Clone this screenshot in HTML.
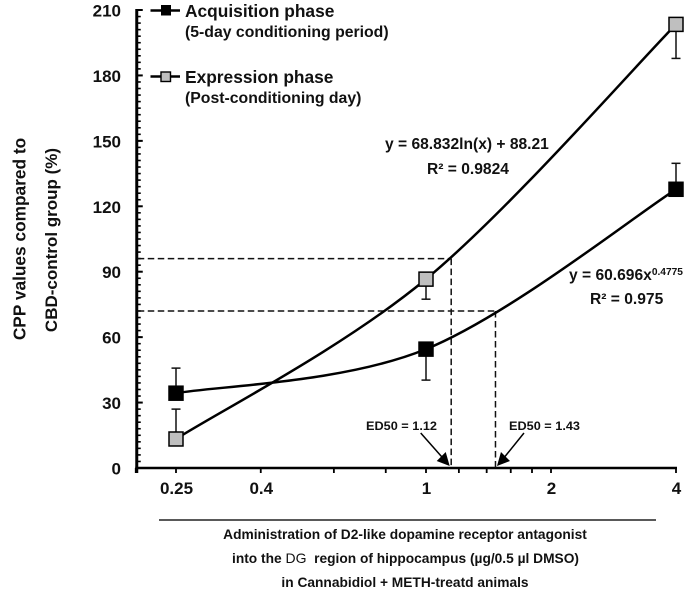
<!DOCTYPE html>
<html lang="en">
<head>
<meta charset="utf-8">
<title>CPP dose-response chart</title>
<style>
html,body{margin:0;padding:0;background:#fff;width:685px;height:595px;overflow:hidden}
svg{display:block;position:absolute;left:0;top:0;filter:blur(0.35px)}
text{font-family:"Liberation Sans",Arial,sans-serif;font-weight:bold;fill:#111;white-space:pre}
</style>
</head>
<body>
<svg id="chart" xmlns="http://www.w3.org/2000/svg" width="685" height="595" viewBox="0 0 685 595">
  <text transform="translate(25.5,239) rotate(-90)" text-anchor="middle" font-size="17.3">CPP values compared to</text>
  <text transform="translate(57,240) rotate(-90)" text-anchor="middle" font-size="17">CBD-control group (%)</text>

  <text x="185" y="17" font-size="17.35">Acquisition phase</text>
  <text x="185" y="37" font-size="15.8">(5-day conditioning period)</text>
  <text x="185" y="83" font-size="17.35">Expression phase</text>
  <text x="185" y="103" font-size="15.8">(Post-conditioning day)</text>

  <g>
    <line x1="150.5" y1="10.5" x2="180" y2="10.5" stroke="#000" stroke-width="2.5"/>
    <rect x="161" y="5" width="10" height="10.5" fill="#000"/>
  </g>
  <g>
    <line x1="150.5" y1="76.5" x2="180" y2="76.5" stroke="#000" stroke-width="2.5"/>
    <rect x="161" y="72" width="9.5" height="9.5" fill="#bfbfbf" stroke="#000" stroke-width="1.4"/>
  </g>

  <text x="385" y="149" font-size="15.6">y = 68.832ln(x) + 88.21</text>
  <text x="427" y="174" font-size="15.6">R² = 0.9824</text>
  <text x="569" y="280" font-size="15.6">y = 60.696x<tspan font-size="10.2" dy="-5">0.4775</tspan></text>
  <text x="590" y="304" font-size="15.6">R² = 0.975</text>

  <text x="366" y="430" font-size="12" textLength="71" lengthAdjust="spacingAndGlyphs">ED50 = 1.12</text>
  <text x="509" y="430" font-size="12" textLength="71" lengthAdjust="spacingAndGlyphs">ED50 = 1.43</text>

  <line x1="159" y1="520" x2="656" y2="520" stroke="#222" stroke-width="1.5"/>
  <text x="405" y="539" text-anchor="middle" font-size="13.75">Administration of D2-like dopamine receptor antagonist</text>
  <text x="405.5" y="563" text-anchor="middle" font-size="13.75">into the <tspan font-weight="normal" font-size="14">DG</tspan>  region of hippocampus (µg/0.5 µl DMSO)</text>
  <text x="405" y="587" text-anchor="middle" font-size="13.75">in Cannabidiol + METH-treatd animals</text>
</svg>
<script>
// Chart data
const doses = [0.25, 1, 4];
const acquisitionValues = [34.3, 54.5, 127.8];
const acquisitionErrorEnds = [45.8, 40.3, 139.7];
const expressionValues = [13.3, 86.6, 203.4];
const expressionErrorEnds = [27, 77.4, 187.8];
const yMajorTicks = [0, 30, 60, 90, 120, 150, 180, 210];
const yMinorStep = 3;
const xTickValues = [0.2, 0.25, 0.4, 0.6, 0.8, 1, 1.2, 1.4, 1.6, 1.8, 2, 4];
const xTickLabels = [0.25, 0.4, 1, 2, 4];
const referenceLevels = [96, 72];
const referenceDoses = [1.15, 1.47];

const svg = document.getElementById('chart');
const NS = 'http://www.w3.org/2000/svg';

// Axis functions
function xScale(v) { return 426 + 125 * Math.log2(v); }
function yScale(v) { return 468 - (458 / 210) * v; }

function mk(tag, attrs, parent) {
  const el = document.createElementNS(NS, tag);
  for (const k in attrs) el.setAttribute(k, attrs[k]);
  (parent || svg).appendChild(el);
  return el;
}

function smoothPath(xs, ys) {
  const px = xs.map(xScale);
  const py = ys.map(yScale);
  let d = 'M' + px[0] + ' ' + py[0];
  for (let i = 0; i < px.length - 1; i++) {
    const a = Math.max(i - 1, 0);
    const b = Math.min(i + 2, px.length - 1);
    const c1x = px[i] + (px[i + 1] - px[a]) / 6;
    const c1y = py[i] + (py[i + 1] - py[a]) / 6;
    const c2x = px[i + 1] - (px[b] - px[i]) / 6;
    const c2y = py[i + 1] - (py[b] - py[i]) / 6;
    d += ' C' + c1x + ' ' + c1y + ' ' + c2x + ' ' + c2y + ' ' + px[i + 1] + ' ' + py[i + 1];
  }
  return d;
}

// Y axis
const yAxisLine = mk('line', { x1: xScale(0.2) + 1, x2: xScale(0.2) + 1, y1: yScale(210) - 1, y2: yScale(0) + 5, stroke: '#000', 'stroke-width': 3 });



const yAxisX = xScale(0.2) + 1;
for (let v = 0; v <= 210; v += yMinorStep) {
  const minorTick = mk('line', { x1: yAxisX, x2: yAxisX + 4, y1: yScale(v), y2: yScale(v), stroke: '#000', 'stroke-width': 1.6 });
  
  
}
yMajorTicks.forEach(function (v) {
  const majorTick = mk('line', { x1: yAxisX, x2: yAxisX + 6, y1: yScale(v), y2: yScale(v), stroke: '#000', 'stroke-width': 2 });
  
  
  const label = mk('text', { x: 121, y: yScale(v) + 6.5, 'text-anchor': 'end', 'font-size': 17 });
  label.textContent = String(v);
  
  
});

// X axis
const xAxisLine = mk('line', { x1: xScale(0.2) - 0.5, x2: xScale(4) + 1, y1: yScale(0), y2: yScale(0), stroke: '#000', 'stroke-width': 2.6 });



xTickValues.forEach(function (v) {
  const xTick = mk('line', { x1: xScale(v), x2: xScale(v), y1: yScale(0), y2: yScale(0) + 5, stroke: '#000', 'stroke-width': 1.8 });
  
  
});
xTickLabels.forEach(function (v) {
  const xLabel = mk('text', { x: xScale(v) + 0.5, y: 494, 'text-anchor': 'middle', 'font-size': 17 });
  xLabel.textContent = String(v);
  
  
});

// Dashed reference lines
referenceLevels.forEach(function (level, i) {
  const hLine = mk('line', { x1: xScale(0.2) + 2, x2: xScale(referenceDoses[i]), y1: yScale(level), y2: yScale(level), stroke: '#111', 'stroke-width': 1.5, 'stroke-dasharray': '6.5 3.5' });
  
  
  const vLine = mk('line', { x1: xScale(referenceDoses[i]), x2: xScale(referenceDoses[i]), y1: yScale(level), y2: yScale(0), stroke: '#111', 'stroke-width': 1.5, 'stroke-dasharray': '6.5 3.5' });
  
  
});

// ED50 arrows point at the guide lines
const arrowOneTipX = xScale(referenceDoses[0]) - 1.5;
const arrowTwoTipX = xScale(referenceDoses[1]) + 1.5;
const arrowOne = mk('g', {});


mk('line', { x1: arrowOneTipX - 29, y1: 433, x2: arrowOneTipX - 6, y2: 459, stroke: '#000', 'stroke-width': 1.5 }, arrowOne);
mk('polygon', { points: (arrowOneTipX) + ',466 ' + (arrowOneTipX - 13) + ',461 ' + (arrowOneTipX - 4) + ',452', fill: '#000' }, arrowOne);
const arrowTwo = mk('g', {});


mk('line', { x1: arrowTwoTipX + 27, y1: 433, x2: arrowTwoTipX + 6, y2: 459, stroke: '#000', 'stroke-width': 1.5 }, arrowTwo);
mk('polygon', { points: (arrowTwoTipX) + ',466 ' + (arrowTwoTipX + 13) + ',461 ' + (arrowTwoTipX + 4) + ',452', fill: '#000' }, arrowTwo);

// Series
function drawSeries(name, values, errorEnds, fill) {
  errorEnds.forEach(function (end, i) {
    const x = xScale(doses[i]);
    const stem = mk('line', { x1: x, x2: x, y1: yScale(values[i]), y2: yScale(end), stroke: '#111', 'stroke-width': 1.5 });
    
    
    const cap = mk('line', { x1: x - 4.5, x2: x + 4.5, y1: yScale(end), y2: yScale(end), stroke: '#111', 'stroke-width': 1.5 });
    
    
  });
  const curve = mk('path', { d: smoothPath(doses, values), fill: 'none', stroke: '#000', 'stroke-width': 2.5 });
  
  
  values.forEach(function (v, i) {
    const marker = mk('rect', { x: xScale(doses[i]) - 7, y: yScale(v) - 7, width: 14, height: 14, fill: fill, stroke: '#000', 'stroke-width': 1.5 });
    
    
  });
}
drawSeries('expression', expressionValues, expressionErrorEnds, '#bfbfbf');
drawSeries('acquisition', acquisitionValues, acquisitionErrorEnds, '#000');
</script>
</body>
</html>
